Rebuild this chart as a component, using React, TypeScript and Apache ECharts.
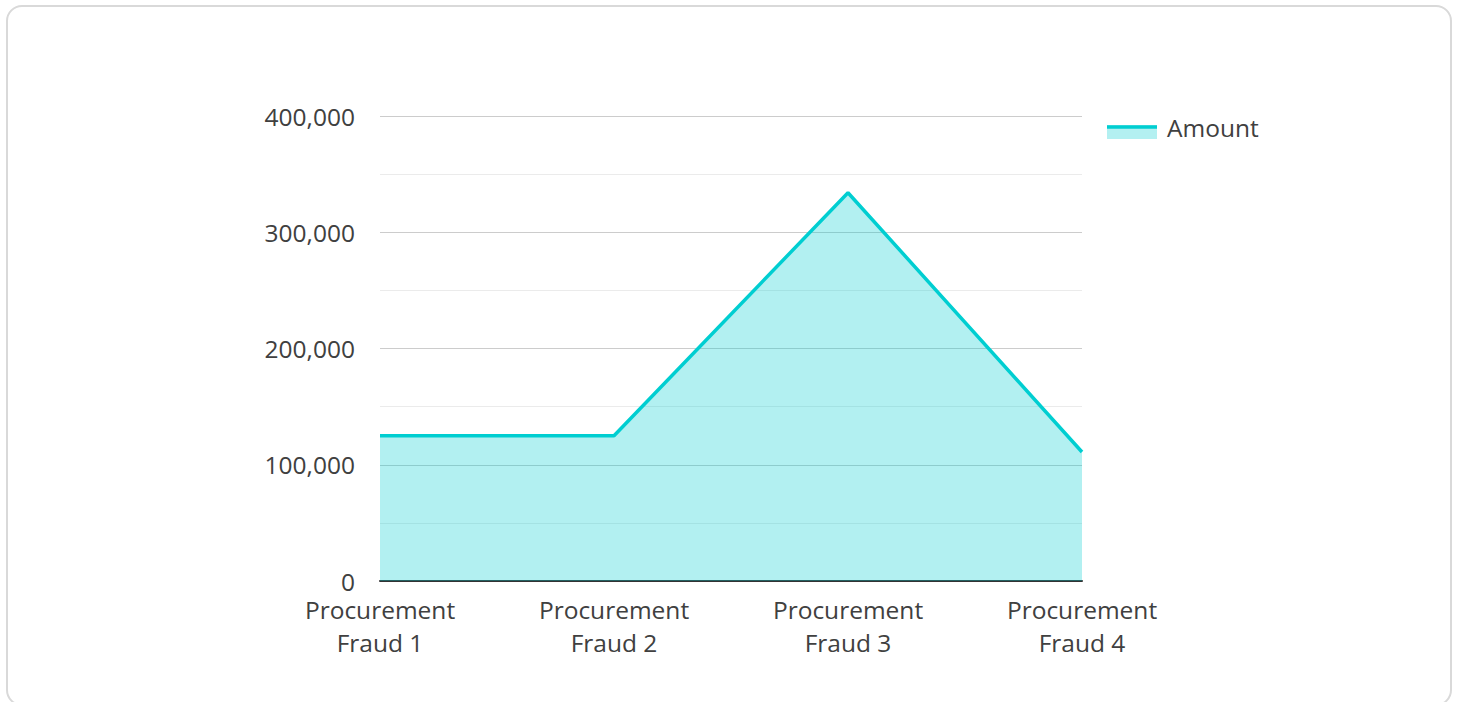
import React, { useEffect, useRef } from "react";
import * as echarts from "echarts";

const categories = [
  "Procurement\nFraud 1",
  "Procurement\nFraud 2",
  "Procurement\nFraud 3",
  "Procurement\nFraud 4",
];
const amounts = [125000, 125000, 334000, 111000];
const seriesName = "Amount";

const LINE = "#00CED1";
const AREA = "#B3F0F1";
const TEXT = "#404040";
const FONT = "'Open Sans', 'Noto Sans', sans-serif";
const FS = 24.5;

export default function App() {
  const ref = useRef<HTMLDivElement>(null);
  useEffect(() => {
    if (!ref.current) return;
    const chart = echarts.init(ref.current, undefined, { renderer: "svg" });
    chart.setOption({
      animation: false,
      textStyle: { fontFamily: FONT },
      grid: { left: 380, right: 376, top: 116, bottom: 121, containLabel: false },
      legend: {
        show: true,
        left: 1107,
        top: 110,
        itemWidth: 50,
        itemHeight: 14,
        textStyle: { fontSize: FS, color: TEXT, fontFamily: FONT },
        itemGap: 10,
        data: [{ name: seriesName, icon: "rect", itemStyle: { color: "rgba(0,0,0,0)", opacity: 0 } }],
      },
      graphic: [
        {
          type: "rect",
          shape: { x: 1107, y: 125, width: 50, height: 14 },
          style: { fill: AREA },
          z: 100,
        },
        {
          type: "line",
          shape: { x1: 1107, y1: 127, x2: 1157, y2: 127 },
          style: { stroke: LINE, lineWidth: 3.5 },
          z: 101,
        },
      ],
      xAxis: {
        type: "category",
        data: categories,
        boundaryGap: false,
        axisLine: { show: true, lineStyle: { color: "#333333", width: 2 } },
        axisTick: { show: false },
        splitLine: { show: false },
        axisLabel: {
          color: TEXT,
          fontSize: FS,
          fontFamily: FONT,
          lineHeight: 33,
          margin: 12,
          interval: 0,
          align: "center",
        },
      },
      yAxis: {
        type: "value",
        min: 0,
        max: 400000,
        interval: 100000,
        axisLine: { show: false },
        axisTick: { show: false },
        axisLabel: {
          color: TEXT,
          fontSize: FS,
          fontFamily: FONT,
          margin: 25,
          formatter: (v: number) => v.toLocaleString("en-US"),
        },
        splitLine: { show: true, lineStyle: { color: "#cccccc", width: 1 } },
        minorTick: { show: false, splitNumber: 2 },
        minorSplitLine: { show: true, lineStyle: { color: "#ebebeb", width: 1 } },
      },
      series: [
        {
          name: seriesName,
          type: "line",
          data: amounts,
          showSymbol: false,
          symbol: "none",
          lineStyle: { color: LINE, width: 3.5 },
          itemStyle: { color: LINE },
          areaStyle: { color: LINE, opacity: 0.3 },
        },
      ],
    });
    return () => chart.dispose();
  }, []);

  return (
    <div style={{ position: "fixed", left: 0, top: 0, width: 1458, height: 702, overflow: "hidden", background: "#fff" }}>
      <div
        style={{
          position: "absolute",
          left: 6,
          top: 5,
          width: 1446,
          height: 701,
          boxSizing: "border-box",
          border: "2px solid #d9d9d9",
          borderRadius: 16,
        }}
      />
      <div ref={ref} style={{ position: "absolute", left: 0, top: 0, width: 1458, height: 702 }} />
    </div>
  );
}
